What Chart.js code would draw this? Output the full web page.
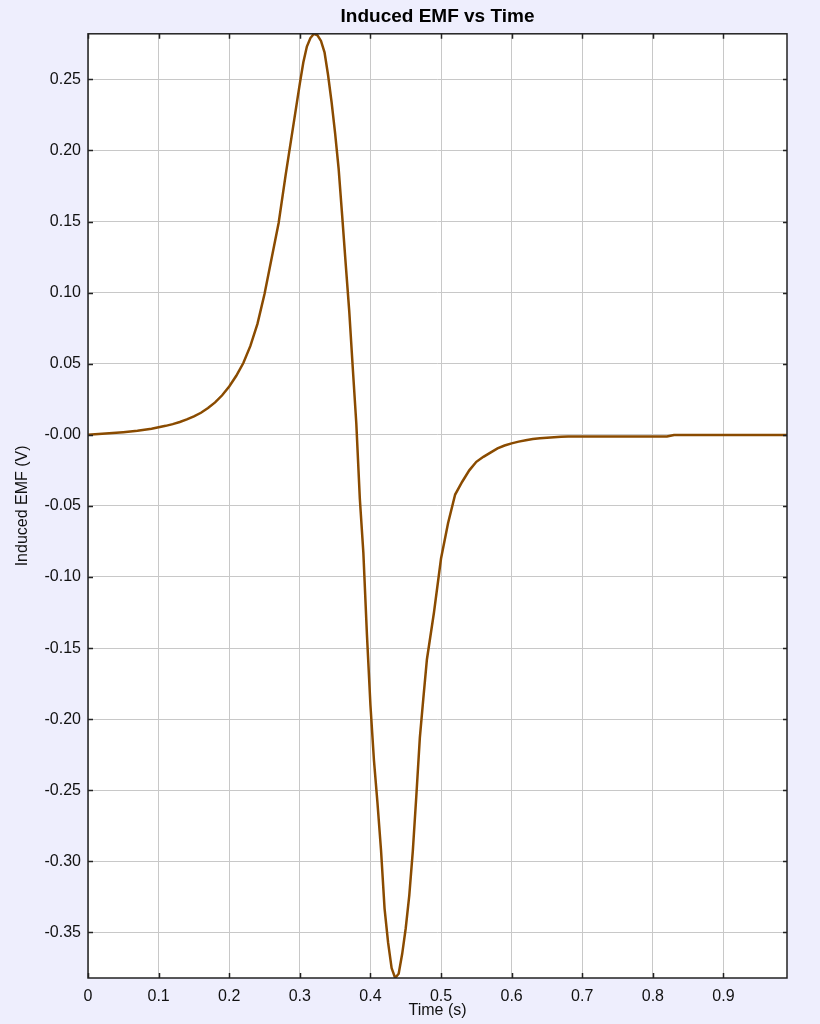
<!DOCTYPE html>
<html>
<head>
<meta charset="utf-8">
<script src="https://cdn.jsdelivr.net/npm/chart.js@4/dist/chart.umd.min.js"></script>
<style>
  html, body { margin: 0; padding: 0; background: #eeeefd; }
  #c { display: block; }
</style>
</head>
<body>
<canvas id="c" width="820" height="1024"></canvas>
<script>
// ---- data ----
const timeS = [
  0.00, 0.01, 0.02, 0.03, 0.04, 0.05, 0.06, 0.07, 0.08, 0.09,
  0.10, 0.11, 0.12, 0.13, 0.14, 0.15, 0.16, 0.17, 0.18, 0.19,
  0.20, 0.21, 0.22, 0.23, 0.24, 0.25, 0.26, 0.27, 0.28, 0.29,
  0.300, 0.305, 0.310, 0.315, 0.320, 0.325, 0.330, 0.335, 0.340, 0.345,
  0.350, 0.355, 0.360, 0.365, 0.370, 0.375, 0.380, 0.385, 0.390, 0.395,
  0.400, 0.405, 0.410, 0.415, 0.420, 0.425, 0.430, 0.435, 0.440, 0.445,
  0.450, 0.455, 0.460, 0.465, 0.470, 0.475, 0.48, 0.49,
  0.50, 0.51, 0.52, 0.53, 0.54, 0.55, 0.56, 0.57, 0.58, 0.59,
  0.60, 0.61, 0.62, 0.63, 0.64, 0.65, 0.66, 0.67, 0.68, 0.69,
  0.70, 0.71, 0.72, 0.73, 0.74, 0.75, 0.76, 0.77, 0.78, 0.79,
  0.80, 0.81, 0.82, 0.83, 0.84, 0.85, 0.86, 0.87, 0.88, 0.89,
  0.90, 0.91, 0.92, 0.93, 0.94, 0.95, 0.96, 0.97, 0.98, 0.99
];
const emfV = [
  0.0000, 0.0004, 0.0008, 0.0011, 0.0014, 0.0018, 0.0023, 0.0028, 0.0035, 0.0043,
  0.0053, 0.0063, 0.0075, 0.0090, 0.0108, 0.0130, 0.0155, 0.0188, 0.0228, 0.0278,
  0.0340, 0.0415, 0.0505, 0.0625, 0.0780, 0.0990, 0.1240, 0.1490, 0.1830, 0.2150,
  0.247, 0.262, 0.273, 0.279, 0.282, 0.281, 0.277, 0.269, 0.253, 0.234,
  0.212, 0.187, 0.154, 0.120, 0.087, 0.047, 0.008, -0.045, -0.083, -0.140,
  -0.190, -0.229, -0.259, -0.292, -0.333, -0.357, -0.375, -0.382, -0.379, -0.365,
  -0.347, -0.324, -0.293, -0.254, -0.213, -0.185, -0.158, -0.125,
  -0.087, -0.062, -0.042, -0.033, -0.025, -0.019, -0.0155, -0.0125, -0.0095, -0.0075,
  -0.0060, -0.0048, -0.0038, -0.0030, -0.0025, -0.0020, -0.0017, -0.0014, -0.0012, -0.0012,
  -0.0012, -0.0012, -0.0012, -0.0012, -0.0012, -0.0012, -0.0012, -0.0012, -0.0012, -0.0012,
  -0.0012, -0.0012, -0.0012, -0.0001, -0.0001, -0.0001, -0.0001, -0.0001, -0.0001, -0.0001,
  -0.0001, -0.0001, -0.0001, -0.0001, -0.0001, -0.0001, -0.0001, -0.0001, -0.0001, -0.0001
];
const xTickStep = 0.1;
const yTickStep = 0.05;
const xRange = [0, 0.99];
const yRange = [-0.382, 0.282];
const titleText = 'Induced EMF vs Time';
const xTitle = 'Time (s)';
const yTitle = 'Induced EMF (V)';

const FONT = "'Liberation Sans', Arial, Helvetica, sans-serif";

const framePlugin = {
  id: 'frame',
  beforeDraw(chart) {
    const { ctx, chartArea: a } = chart;
    ctx.save();
    ctx.fillStyle = '#eeeefd';
    ctx.fillRect(0, 0, chart.width, chart.height);
    ctx.fillStyle = '#ffffff';
    ctx.fillRect(a.left, a.top, a.right - a.left, a.bottom - a.top);
    ctx.restore();
  },
  afterDraw(chart) {
    const { ctx, chartArea: a } = chart;
    const xs = chart.scales.x, ys = chart.scales.y;
    ctx.save();
    ctx.strokeStyle = '#222222';
    ctx.lineWidth = 1.5;
    ctx.beginPath();
    xs.ticks.forEach(t => {
      const px = Math.round(xs.getPixelForValue(t.value)) + 0.5;
      ctx.moveTo(px, a.bottom); ctx.lineTo(px, a.bottom - 5);
      ctx.moveTo(px, a.top); ctx.lineTo(px, a.top + 5);
    });
    ys.ticks.forEach(t => {
      const py = Math.round(ys.getPixelForValue(t.value)) + 0.5;
      ctx.moveTo(a.left, py); ctx.lineTo(a.left + 5, py);
      ctx.moveTo(a.right, py); ctx.lineTo(a.right - 4, py);
    });
    ctx.stroke();
    ctx.lineWidth = 1.5;
    ctx.strokeRect(a.left, a.top, a.right - a.left, a.bottom - a.top);
    ctx.restore();
  }
};

new Chart(document.getElementById('c'), {
  type: 'line',
  data: {
    datasets: [{
      data: timeS.map((t, i) => ({ x: t, y: emfV[i] })),
      borderColor: '#8a4b00',
      borderWidth: 2.5,
      pointRadius: 0,
      tension: 0,
      fill: false
    }]
  },
  options: {
    responsive: false,
    animation: false,
    devicePixelRatio: 1,
    layout: { padding: { left: 0, right: 33, top: 0, bottom: 0 } },
    plugins: {
      legend: { display: false },
      tooltip: { enabled: false },
      title: {
        display: true,
        fullSize: false,
        text: titleText,
        color: '#000',
        font: { family: FONT, size: 19, weight: 'bold' },
        padding: { top: 5, bottom: 6 }
      }
    },
    scales: {
      x: {
        type: 'linear',
        min: xRange[0],
        max: xRange[1],
        afterFit(s) { s.height = 46; },
        grid: { color: '#c8c8c8', lineWidth: 1, drawTicks: false },
        border: { display: false },
        ticks: {
          stepSize: xTickStep,
          includeBounds: false,
          color: '#111',
          padding: 9,
          maxRotation: 0,
          font: { family: FONT, size: 16 },
          callback: v => (Math.abs(v) < 1e-9 ? '0' : v.toFixed(1))
        },
        title: {
          display: true,
          text: xTitle,
          color: '#111',
          font: { family: FONT, size: 16 },
          padding: { top: 0, bottom: 4 }
        }
      },
      y: {
        type: 'linear',
        min: yRange[0],
        max: yRange[1],
        afterFit(s) { s.width = 88; },
        grid: { color: '#c8c8c8', lineWidth: 1, drawTicks: false },
        border: { display: false },
        ticks: {
          stepSize: yTickStep,
          includeBounds: false,
          color: '#111',
          padding: 7,
          font: { family: FONT, size: 16 },
          callback: v => (Math.abs(v) < 1e-9 ? '-0.00' : v.toFixed(2))
        },
        title: {
          display: true,
          text: yTitle,
          color: '#111',
          font: { family: FONT, size: 16 },
          padding: { top: 13, bottom: 0 }
        }
      }
    }
  },
  plugins: [framePlugin]
});
</script>
</body>
</html>
